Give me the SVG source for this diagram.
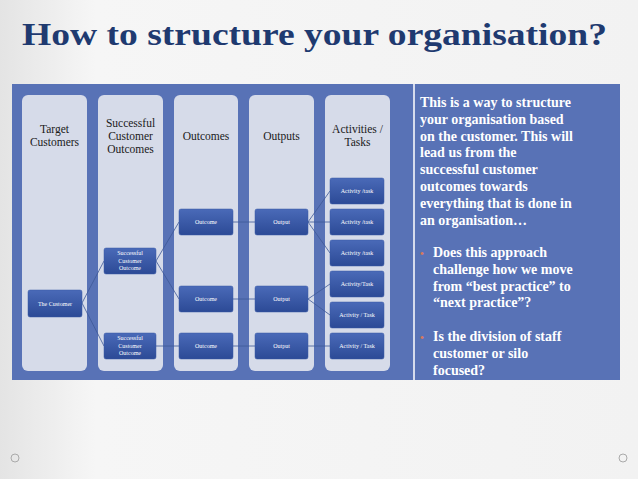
<svg xmlns="http://www.w3.org/2000/svg" width="638" height="479" viewBox="0 0 638 479">
<defs>
<linearGradient id="bg" x1="0" x2="1"><stop offset="0" stop-color="#e4e4e4"/><stop offset="0.15" stop-color="#f6f6f6"/><stop offset="1" stop-color="#f2f2f2"/></linearGradient>
<linearGradient id="bx" x1="0" y1="0" x2="0" y2="1"><stop offset="0" stop-color="#4a6ab8"/><stop offset="1" stop-color="#2c4a96"/></linearGradient>
<style>
.col{fill:#d6dbe9}
.b{fill:url(#bx);stroke:#3a5aa6;stroke-width:0.5}
.bt{font-family:"Liberation Serif",serif;font-size:6px;fill:#fff;text-anchor:middle}
.h{font-family:"Liberation Serif",serif;font-size:11.5px;fill:#1a1a1a;text-anchor:middle}
.c{stroke:#3e5897;stroke-width:0.8;fill:none}
.t{font-family:"Liberation Serif",serif;font-weight:bold;font-size:14px;fill:#fff}
.bu{fill:#d9795a;font-size:11px}
</style>
</defs>
<rect width="638" height="479" fill="url(#bg)"/>
<text x="22" y="45" font-family="Liberation Serif,serif" font-weight="bold" font-size="31" fill="#1f3a70" textLength="585" lengthAdjust="spacingAndGlyphs">How to structure your organisation?</text>
<rect x="12" y="84" width="608" height="296" fill="#5872b6"/>
<line x1="414" y1="84" x2="414" y2="380" stroke="#fff" stroke-width="1.5"/>
<g id="columns">
<rect class="col" x="22" y="95" width="65" height="276" rx="6"/>
<rect class="col" x="98" y="95" width="65" height="276" rx="6"/>
<rect class="col" x="174" y="95" width="64" height="276" rx="6"/>
<rect class="col" x="249" y="95" width="65" height="276" rx="6"/>
<rect class="col" x="325" y="95" width="65" height="276" rx="6"/>
<text class="h" x="54.5" y="133">Target</text><text class="h" x="54.5" y="146">Customers</text>
<text class="h" x="130.5" y="127">Successful</text><text class="h" x="130.5" y="140">Customer</text><text class="h" x="130.5" y="153">Outcomes</text>
<text class="h" x="206" y="140">Outcomes</text>
<text class="h" x="281.5" y="140">Outputs</text>
<text class="h" x="357.5" y="133">Activities /</text><text class="h" x="357.5" y="146">Tasks</text>
</g>
<g id="connectors">
<path class="c" d="M82,303 L104,261 M82,303 L104,346 M156,261 L179,222 M156,261 L179,299 M156,346 H179 M233,222 H255 M233,299 H255 M233,346 H255 M308,222 L330,191 M308,222 H330 M308,222 L330,253 M308,299 L330,284 M308,299 L330,315 M308,346 H330"/>
</g>
<g id="n-customer"><rect class="b" x="28" y="290" width="54" height="27" rx="2"/><text class="bt" x="55" y="305.5">The Customer</text></g>
<g id="n-sco1"><rect class="b" x="104" y="248" width="52" height="26" rx="2"/><text class="bt" x="130" y="255">Successful</text><text class="bt" x="130" y="262.5">Customer</text><text class="bt" x="130" y="270">Outcome</text></g>
<g id="n-sco2"><rect class="b" x="104" y="333" width="52" height="26" rx="2"/><text class="bt" x="130" y="340">Successful</text><text class="bt" x="130" y="347.5">Customer</text><text class="bt" x="130" y="355">Outcome</text></g>
<g id="n-outcome1"><rect class="b" x="179" y="209" width="54" height="26" rx="2"/><text class="bt" x="206" y="224">Outcome</text></g>
<g id="n-outcome2"><rect class="b" x="179" y="286" width="54" height="26" rx="2"/><text class="bt" x="206" y="301">Outcome</text></g>
<g id="n-outcome3"><rect class="b" x="179" y="333" width="54" height="26" rx="2"/><text class="bt" x="206" y="348">Outcome</text></g>
<g id="n-output1"><rect class="b" x="255" y="209" width="53" height="26" rx="2"/><text class="bt" x="281.5" y="224">Output</text></g>
<g id="n-output2"><rect class="b" x="255" y="286" width="53" height="26" rx="2"/><text class="bt" x="281.5" y="301">Output</text></g>
<g id="n-output3"><rect class="b" x="255" y="333" width="53" height="26" rx="2"/><text class="bt" x="281.5" y="348">Output</text></g>
<g id="n-act1"><rect class="b" x="330" y="178" width="54" height="26" rx="2"/><text class="bt" x="357" y="193">Activity /task</text></g>
<g id="n-act2"><rect class="b" x="330" y="209" width="54" height="26" rx="2"/><text class="bt" x="357" y="224">Activity /task</text></g>
<g id="n-act3"><rect class="b" x="330" y="240" width="54" height="26" rx="2"/><text class="bt" x="357" y="255">Activity /task</text></g>
<g id="n-act4"><rect class="b" x="330" y="271" width="54" height="26" rx="2"/><text class="bt" x="357" y="286">Activity/Task</text></g>
<g id="n-act5"><rect class="b" x="330" y="302" width="54" height="26" rx="2"/><text class="bt" x="357" y="317">Activity / Task</text></g>
<g id="n-act6"><rect class="b" x="330" y="333" width="54" height="26" rx="2"/><text class="bt" x="357" y="348">Activity / Task</text></g>
<g id="notes" class="t">
<text x="420" y="107">This is a way to structure</text>
<text x="420" y="124">your organisation based</text>
<text x="420" y="141">on the customer. This will</text>
<text x="420" y="157">lead us from the</text>
<text x="420" y="174">successful customer</text>
<text x="420" y="191">outcomes towards</text>
<text x="420" y="208">everything that is done in</text>
<text x="420" y="225">an organisation…</text>
<text x="420" y="257" class="bu">•</text>
<text x="433" y="257">Does this approach</text>
<text x="433" y="274">challenge how we move</text>
<text x="433" y="291">from “best practice” to</text>
<text x="433" y="307">“next practice”?</text>
<text x="420" y="341" class="bu">•</text>
<text x="433" y="341">Is the division of staff</text>
<text x="433" y="358">customer or silo</text>
<text x="433" y="375">focused?</text>
</g>
<circle cx="15" cy="458" r="4" fill="none" stroke="#aaa"/>
<circle cx="623" cy="458" r="4" fill="none" stroke="#aaa"/>
</svg>
